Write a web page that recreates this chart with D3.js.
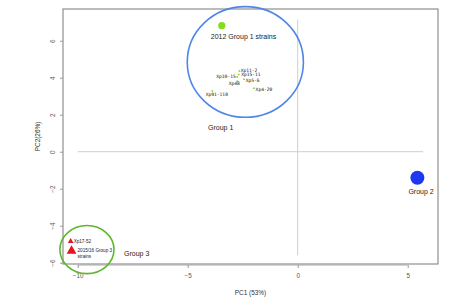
<!DOCTYPE html>
<html><head><meta charset="utf-8">
<script src="https://cdn.jsdelivr.net/npm/d3@7"></script>
<style>html,body{margin:0;padding:0;background:#fff;}svg{display:block;}</style>
</head><body>
<svg id="chart" width="474" height="305"></svg>
<script>
// ---- data ----
const strainNames = ["Xp11-2","Xp15-11","Xp10-15","Xp48","Xp5-6","Xp4-20","Xp91-110"];
const strainPC1 = [-2.65,-2.68,-2.75,-2.75,-2.44,-1.99,-3.88];
const strainPC2 = [4.36,4.18,4.04,3.81,3.91,3.43,3.28];

const group1Name = "2012 Group 1 strains";
const group1PC = [-3.45, 6.81];

const group2Name = "Group 2";
const group2PC = [5.44, -1.41];

const group3Names = ["Xp17-52","2015/16 Group 3"];
const group3PC1 = [-10.32, -10.28];
const group3PC2 = [-4.84, -5.36];

const xTicks = [-10,-5,0,5];
const yTicks = [-6,-4,-2,0,2,4,6];
const xLabel = "PC1 (53%)";
const yLabel = "PC2(26%)";

// group ellipses (data units): center x, center y, radius x, radius y
const ellipseNames = ["Group 1","Group 3"];
const ellipseCX = [-2.38,-9.58];
const ellipseCY = [4.85,-5.29];
const ellipseRX = [2.64,1.23];
const ellipseRY = [2.99,1.30];

// ---- layout ----
const svg = d3.select("#chart");
const L=63, R=438, T=9, B=264;
const x = d3.scaleLinear().domain([-10.668, 6.377]).range([L, R]);
const y = d3.scaleLinear().domain([-6.07, 7.714]).range([B, T]);
const sans = "Liberation Sans, Arial, sans-serif";

// reference lines
svg.append("line").attr("x1",x(-10)).attr("x2",x(5.7)).attr("y1",y(0)).attr("y2",y(0))
  .attr("stroke","#cfcfcf").attr("stroke-width",1);
svg.append("line").attr("x1",x(0)).attr("x2",x(0)).attr("y1",y(7.15)).attr("y2",y(-5.6))
  .attr("stroke","#cfcfcf").attr("stroke-width",1);

// box
svg.append("rect").attr("x",L).attr("y",T).attr("width",R-L).attr("height",B-T)
  .attr("fill","none").attr("stroke","#858585").attr("stroke-width",1.1);

// axes
const xAxis = d3.axisBottom(x).tickValues(xTicks).tickSize(3).tickPadding(6).tickFormat(d=>d<0?"\u2212"+Math.abs(d):d);
const gx = svg.append("g").attr("transform",`translate(0,${B+1})`).call(xAxis);
gx.select(".domain").attr("d",`M${x(-10)},0H${x(5)}`).attr("stroke","#aaa");
gx.selectAll(".tick line").attr("stroke","#999");
gx.selectAll(".tick text").attr("fill","#555").style("font-family",sans).style("font-size","6.3px");

const yAxis = d3.axisLeft(y).tickValues(yTicks).tickSize(3).tickFormat(d=>d<0?"\u2212"+Math.abs(d):d);
const gy = svg.append("g").attr("transform",`translate(${L},0)`).call(yAxis);
gy.select(".domain").remove();
gy.selectAll(".tick line").attr("stroke","#999");
gy.selectAll(".tick text").attr("fill","#555").style("font-family",sans).style("font-size","6.3px")
  .attr("x",null).attr("dy",null).attr("text-anchor","middle")
  .attr("transform","translate(-11,0) rotate(-90)").attr("dominant-baseline","central");

svg.append("text").attr("x",(L+R)/2).attr("y",292).attr("text-anchor","middle").attr("dominant-baseline","central")
  .style("font-family",sans).style("font-size","6.4px").attr("fill","#333").text(xLabel);
svg.append("text").attr("transform",`translate(37,${(T+B)/2}) rotate(-90)`).attr("text-anchor","middle").attr("dominant-baseline","central")
  .style("font-family",sans).style("font-size","6.4px").attr("fill","#333").text(yLabel);

// ellipses
const ellColors = ["#4f86e8","#5db62c"];
ellipseNames.forEach((n,i)=>{
  svg.append("ellipse").attr("cx",x(ellipseCX[i])).attr("cy",y(ellipseCY[i]))
    .attr("rx",x(ellipseCX[i]+ellipseRX[i])-x(ellipseCX[i]))
    .attr("ry",y(ellipseCY[i]-ellipseRY[i])-y(ellipseCY[i]))
    .attr("fill","none").attr("stroke",ellColors[i]).attr("stroke-width",1.6);
});

// group 1 big point
svg.append("circle").attr("cx",x(group1PC[0])).attr("cy",y(group1PC[1])).attr("r",3.6).attr("fill","#85dc1c");
svg.append("text").attr("x",x(group1PC[0])-11).attr("y",y(group1PC[1])+10.5).attr("dominant-baseline","central")
  .style("font-family",sans).style("font-size","7px").attr("fill","#222").text(group1Name);

// strain points
const labelPos = [[1.3,-1,"start"],[2.5,0,"start"],[-1.5,-0.7,"end"],[-3,2.4,"middle"],[1.7,0.7,"start"],[1.7,1,"start"],[4.5,3.8,"middle"]];
strainNames.forEach((n,i)=>{
  const cx=x(strainPC1[i]), cy=y(strainPC2[i]);
  svg.append("circle").attr("cx",cx).attr("cy",cy).attr("r",1).attr("fill","#9ad830");
  svg.append("text").attr("x",cx+labelPos[i][0]).attr("y",cy+labelPos[i][1]).attr("text-anchor",labelPos[i][2])
    .attr("dominant-baseline","central").style("font-family","DejaVu Sans Mono, Liberation Mono, monospace")
    .style("font-size","4.6px").attr("fill","#111").text(n);
});

// ellipse labels
svg.append("text").attr("x",208).attr("y",y(1.3)).attr("dominant-baseline","central")
  .style("font-family",sans).style("font-size","7px").attr("fill","#222").text(ellipseNames[0]);
svg.append("text").attr("x",124).attr("y",y(-5.48)).attr("dominant-baseline","central")
  .style("font-family",sans).style("font-size","7px").attr("fill","#222").text(ellipseNames[1]);

// group 2
svg.append("circle").attr("cx",x(group2PC[0])).attr("cy",y(group2PC[1])).attr("r",7).attr("fill","#1c38f0");
svg.append("text").attr("x",x(group2PC[0])-9).attr("y",y(group2PC[1])+14).attr("dominant-baseline","central")
  .style("font-family",sans).style("font-size","7px").attr("fill","#222").text(group2Name);

// group 3 triangles
const triSizes = [14, 42];
group3Names.forEach((n,i)=>{
  const cx=x(group3PC1[i]), cy=y(group3PC2[i]);
  svg.append("path").attr("d",d3.symbol().type(d3.symbolTriangle).size(triSizes[i])())
    .attr("transform",`translate(${cx},${cy})`).attr("fill","#e8141e");
});
svg.append("text").attr("x",x(group3PC1[0])+3).attr("y",y(group3PC2[0])).attr("dominant-baseline","central")
  .style("font-family",sans).style("font-size","4.6px").attr("fill","#222").text(group3Names[0]);
svg.append("text").attr("x",x(group3PC1[1])+6).attr("y",y(group3PC2[1])).attr("dominant-baseline","central")
  .style("font-family",sans).style("font-size","4.6px").attr("fill","#222").text(group3Names[1]);
svg.append("text").attr("x",x(group3PC1[1])+6).attr("y",y(group3PC2[1])+5.5).attr("dominant-baseline","central")
  .style("font-family",sans).style("font-size","4.6px").attr("fill","#222").text("strains");
</script>
</body></html>
